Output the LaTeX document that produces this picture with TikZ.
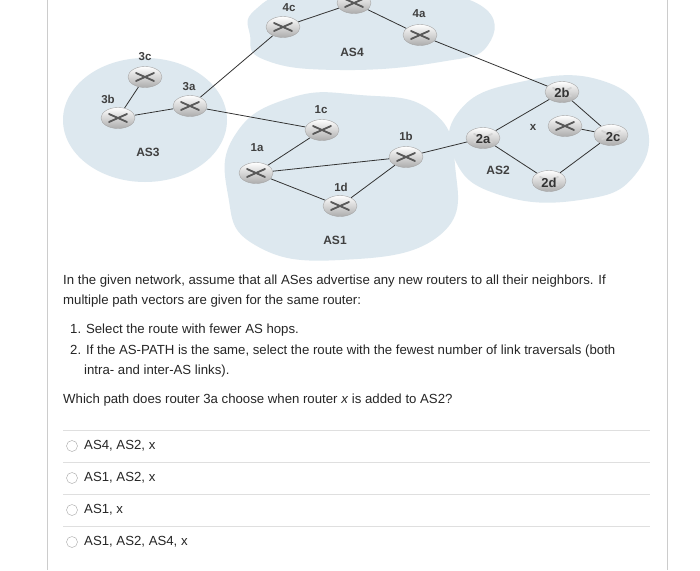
\documentclass[tikz,border=0pt]{standalone}
\usepackage{fontspec}
\setmainfont{Liberation Sans}
\setsansfont{Liberation Sans}
\usetikzlibrary{shapes.geometric,backgrounds}
\definecolor{blobc}{HTML}{DDE8EF}
\begin{document}
\begin{tikzpicture}[x=1pt,y=-1pt,
  xcol/.store in=\xcol, xcol=gray!70!black,
  router/.style={ellipse,minimum width=34pt,minimum height=21pt,inner sep=0pt,
    top color=white,bottom color=gray!65,draw=gray!70,
    path picture={\draw[\xcol,line width=1.8pt,line cap=round]
      ([xshift=-9pt,yshift=-4pt]path picture bounding box.center)--([xshift=9pt,yshift=4pt]path picture bounding box.center)
      ([xshift=-9pt,yshift=4pt]path picture bounding box.center)--([xshift=9pt,yshift=-4pt]path picture bounding box.center);}},
  frouter/.style={router,xcol=gray!35},
  rlab/.style={font=\sffamily\bfseries\fontsize{11.5}{13}\selectfont,text=black!75},
  blab/.style={font=\sffamily\bfseries\fontsize{13}{15}\selectfont,text=black!80},
  aslab/.style={font=\sffamily\bfseries\fontsize{12}{14}\selectfont,text=black!75},
  blob/.style={fill=blobc,draw=none},
  link/.style={draw=black!80,line width=0.8pt},
  body/.style={font=\fontsize{13.2}{15}\selectfont,text=black!85,anchor=west,inner sep=0pt},
  sep/.style={draw=gray!25,line width=0.8pt},
  radio/.style={circle,draw=gray!70,minimum size=11pt,inner sep=0pt}]
\useasboundingbox (0,0) rectangle (700,570);
% routers
\node[router] (3c) at (145,77) {};
\node[router] (3b) at (118,118) {};
\node[router] (3a) at (190,106) {};
\node[router] (4c) at (283,27) {};
\node[router] (4b) at (354,3) {};
\node[router] (4a) at (420,35) {};
\node[router] (1c) at (322,130) {};
\node[router] (1a) at (256,173) {};
\node[router] (1b) at (406,157) {};
\node[router] (1d) at (340,206) {};
\node[frouter] (2b) at (562,92) {};
\node[frouter] (2a) at (483,138) {};
\node[router] (x)  at (565,126) {};
\node[frouter] (2c) at (611,135) {};
\node[frouter] (2d) at (549,181) {};
\begin{scope}[on background layer]
\fill[white] (0,0) rectangle (700,570);
\draw[gray!40] (47,0)--(47,570) (667,0)--(667,570);
\fill[blob] (145,120) ellipse [x radius=82,y radius=62];
\fill[blob] plot[smooth cycle,tension=0.8] coordinates{(255,10) (300,-8) (400,-8) (480,5) (488,45) (440,62) (340,70) (265,60) (250,35)};
\fill[blob] plot[smooth cycle,tension=0.8] coordinates{(235,135) (290,98) (360,95) (430,110) (455,165) (440,235) (340,260) (255,245) (228,195)};
\fill[blob] plot[smooth cycle,tension=0.8] coordinates{(460,110) (520,82) (600,80) (645,120) (635,175) (580,200) (500,195) (455,160)};
\path[link] (3c)--(3b) (3b)--(3a) (3a)--(4c) (3a)--(1c) (4c)--(4b) (4b)--(4a)
  (4a)--(2b) (1c)--(1a) (1a)--(1b) (1a)--(1d) (1d)--(1b) (1b)--(2a)
  (2a)--(2b) (2b)--(2c) (2a)--(2d) (2d)--(2c) (x)--(2c);
\end{scope}
% labels
\node[rlab] (l3c) at (145,57) {3c};
\node[rlab] (l3b) at (108,99) {3b};
\node[rlab] (l3a) at (189,87) {3a};
\node[rlab] (l4c) at (289,8) {4c};
\node[rlab] (l4a) at (419,14) {4a};
\node[rlab] (l1c) at (321,110) {1c};
\node[rlab] (l1a) at (257,148) {1a};
\node[rlab] (l1b) at (406,136) {1b};
\node[rlab] (l1d) at (341,187) {1d};
\node[rlab] (lx) at (533,127) {x};
\node[blab] (l2b) at (562,93) {2b};
\node[blab] (l2a) at (483,139) {2a};
\node[blab] (l2c) at (613,137) {2c};
\node[blab] (l2d) at (549,183) {2d};
\node[aslab] (as4) at (352,52) {AS4};
\node[aslab] (as3) at (148,152) {AS3};
\node[aslab] (as1) at (335,240) {AS1};
\node[aslab] (as2) at (498,170) {AS2};
% text
\node[body] (t1) at (63,281) {In the given network, assume that all ASes advertise any new routers to all their neighbors. If};
\node[body] (t2) at (63,301) {multiple path vectors are given for the same router:};
\node[body] (t3) at (70,330) {1. Select the route with fewer AS hops.};
\node[body] (t4) at (70,351) {2. If the AS-PATH is the same, select the route with the fewest number of link traversals (both};
\node[body] (t5) at (84,371) {intra- and inter-AS links).};
\node[body] (t6) at (63,400) {Which path does router 3a choose when router \textit{x} is added to AS2?};
\draw[sep] (63,430)--(650,430) (63,462)--(650,462) (63,494)--(650,494) (63,526)--(650,526);
\node[radio] (r1) at (72,446) {};
\node[radio] (r2) at (72,478) {};
\node[radio] (r3) at (72,510) {};
\node[radio] (r4) at (72,542) {};
\node[body] (o1) at (84,446) {AS4, AS2, x};
\node[body] (o2) at (84,478) {AS1, AS2, x};
\node[body] (o3) at (84,510) {AS1, x};
\node[body] (o4) at (84,542) {AS1, AS2, AS4, x};
\end{tikzpicture}
\end{document}
